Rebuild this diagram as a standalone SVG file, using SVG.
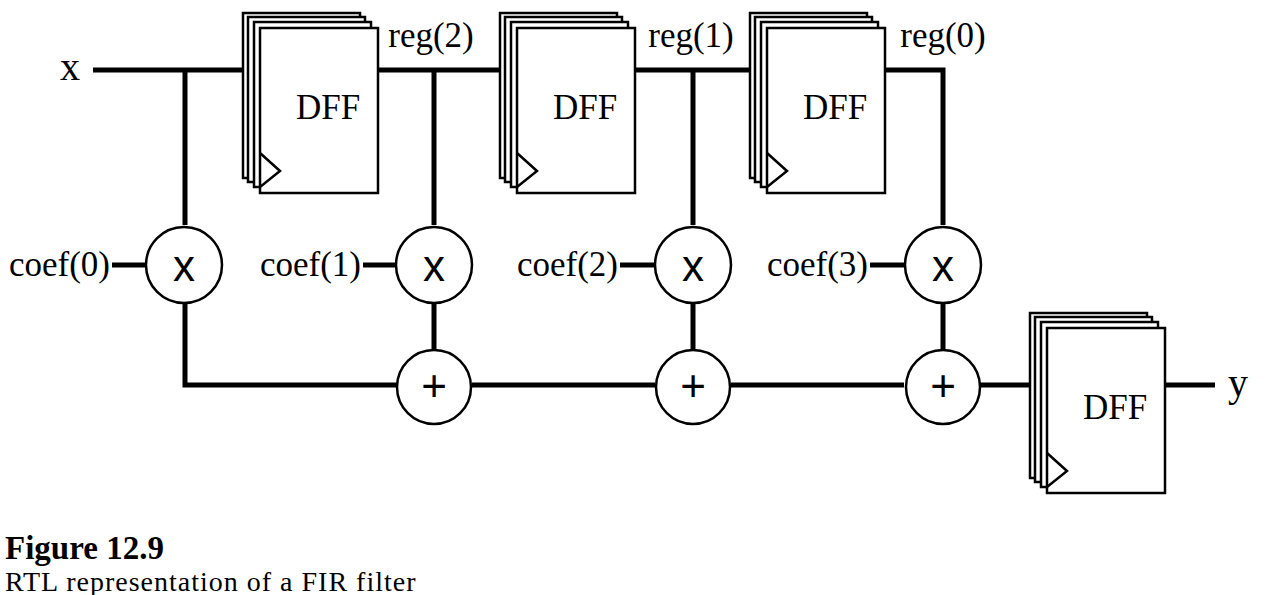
<svg xmlns="http://www.w3.org/2000/svg" width="1272" height="595" viewBox="0 0 1272 595">
<style>
.w{stroke:#000;stroke-width:5;fill:none}
.b{stroke:#000;stroke-width:2.5;fill:#fff}
.c{stroke:#000;stroke-width:2.5;fill:#fff}
.t{font-family:"Liberation Serif",serif;font-size:35px}
.s{font-family:"Liberation Sans",sans-serif;font-size:44px}
</style>
<defs>
<g id="dff">
<rect class="b" x="0" y="0" width="117" height="165"/>
<rect class="b" x="5" y="4" width="117" height="165"/>
<rect class="b" x="11" y="9" width="117" height="165"/>
<rect class="b" x="17" y="15" width="118" height="165"/>
<polyline points="17,140 37,158 17,174" fill="none" stroke="#000" stroke-width="2.5"/>
<text class="t" x="85" y="106" text-anchor="middle">DFF</text>
</g>
</defs>
<g id="connectors">
<path class="w" d="M93,70H243M378,70H500M636,70H750M885,70H943V225M185,70V225M434,70V225M693,70V225"/>
<path class="w" d="M185,300V385H397M472,385H655M731,385H904M980,385H1031M1165,385H1215"/>
<path class="w" d="M434,300V349M693,300V349M943,300V349"/>
<path class="w" d="M112,265H145M363,265H397M620,265H655M870,265H904"/>
</g>
<g id="dff1"><use href="#dff" x="243" y="13"/></g>
<g id="dff2"><use href="#dff" x="500" y="13"/></g>
<g id="dff3"><use href="#dff" x="750" y="13"/></g>
<g id="dff4"><use href="#dff" x="1030" y="313"/></g>
<g id="m0"><circle class="c" cx="184" cy="265" r="38"/><text class="s" x="184" y="281" text-anchor="middle">x</text></g>
<g id="m1"><circle class="c" cx="434" cy="265" r="38"/><text class="s" x="434" y="281" text-anchor="middle">x</text></g>
<g id="m2"><circle class="c" cx="693" cy="265" r="38"/><text class="s" x="693" y="281" text-anchor="middle">x</text></g>
<g id="m3"><circle class="c" cx="943" cy="265" r="38"/><text class="s" x="943" y="281" text-anchor="middle">x</text></g>
<g id="a1"><circle class="c" cx="434" cy="387" r="37"/><text class="s" x="434" y="401" text-anchor="middle" font-size="36">+</text></g>
<g id="a2"><circle class="c" cx="693" cy="387" r="37"/><text class="s" x="693" y="401" text-anchor="middle" font-size="36">+</text></g>
<g id="a3"><circle class="c" cx="943" cy="387" r="37"/><text class="s" x="943" y="401" text-anchor="middle" font-size="36">+</text></g>
<g id="labels" class="t">
<text x="60" y="80" font-size="40">x</text>
<text x="1228" y="396" font-size="40">y</text>
<text x="431" y="47" text-anchor="middle">reg(2)</text>
<text x="691" y="47" text-anchor="middle">reg(1)</text>
<text x="943" y="47" text-anchor="middle">reg(0)</text>
<text x="110" y="276" text-anchor="end">coef(0)</text>
<text x="361" y="276" text-anchor="end">coef(1)</text>
<text x="618" y="276" text-anchor="end">coef(2)</text>
<text x="868" y="276" text-anchor="end">coef(3)</text>
<text x="5" y="559" font-weight="bold" font-size="33">Figure 12.9</text>
<text x="5" y="591" font-size="28" letter-spacing="1">RTL representation of a FIR filter</text>
</g>
</svg>
